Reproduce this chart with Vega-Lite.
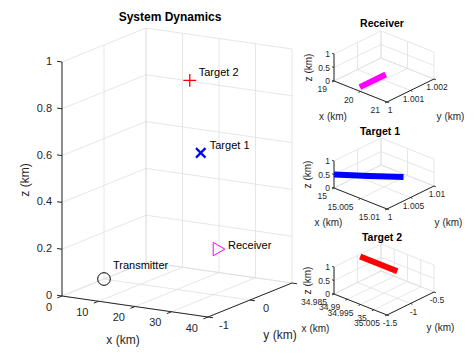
{
  "$schema": "https://vega.github.io/schema/vega-lite/v6.json",
  "width": 474,
  "height": 355,
  "autosize": {"type": "fit", "contains": "padding"},
  "padding": 0,
  "background": "white",
  "config": {"view": {"stroke": null}, "font": "Liberation Sans"},
  "params": [
    {"name": "geo", "value": {
      "main": {"ox": 62, "oy": 296, "ax": 146, "ay": 21, "bx": 84, "by": -34, "h": 234, "x0": 0, "x1": 40, "y0": -1, "y1": 1, "z0": 0, "z1": 1,
               "xl": [-10, 11.5], "yl": [16, 8.5], "zl": [-10, 0], "xt": [-12, 33.5], "yt": [30, 35], "zt": [-37, 1], "tt": [170, 17]},
      "rx": {"ox": 334, "oy": 81, "ax": 53, "ay": 21, "bx": 47, "by": -23, "h": 27, "x0": 19, "x1": 21, "y0": 1, "y1": 1.002, "z0": 0, "z1": 1,
             "xl": [-7, 8], "yl": [3, 8], "zl": [-4, 0], "xt": [-27.5, 25.5], "yt": [40, 26], "zt": [-25, 0], "tt": [382, 24]},
      "t1": {"ox": 334, "oy": 188, "ax": 53, "ay": 21, "bx": 47, "by": -23, "h": 27, "x0": 15, "x1": 15.01, "y0": 1, "y1": 1.01, "z0": 0, "z1": 1,
             "xl": [-7, 8], "yl": [3, 8], "zl": [-4, 0], "xt": [-32, 24.5], "yt": [38, 25], "zt": [-26, 0], "tt": [380, 132]},
      "t2": {"ox": 334, "oy": 294, "ax": 53, "ay": 21, "bx": 47, "by": -23, "h": 27, "x0": 34.985, "x1": 35.005, "y0": -1.5, "y1": -0.5, "z0": 0, "z1": 1,
             "xl": [-7, 8], "yl": [3, 8], "zl": [-4, 0], "xt": [-45, 24.5], "yt": [30, 24], "zt": [-26, 0], "tt": [382, 238]}
    }}
  ],
  "datasets": {
    "ticks": [
      {"panel": "main", "axis": "x", "val": 0, "label": "0"},
      {"panel": "main", "axis": "x", "val": 10, "label": "10"},
      {"panel": "main", "axis": "x", "val": 20, "label": "20"},
      {"panel": "main", "axis": "x", "val": 30, "label": "30"},
      {"panel": "main", "axis": "x", "val": 40, "label": "40"},
      {"panel": "main", "axis": "y", "val": -1, "label": "-1"},
      {"panel": "main", "axis": "y", "val": 0, "label": "0"},
      {"panel": "main", "axis": "y", "val": 1, "label": ""},
      {"panel": "main", "axis": "z", "val": 0, "label": "0"},
      {"panel": "main", "axis": "z", "val": 0.2, "label": "0.2"},
      {"panel": "main", "axis": "z", "val": 0.4, "label": "0.4"},
      {"panel": "main", "axis": "z", "val": 0.6, "label": "0.6"},
      {"panel": "main", "axis": "z", "val": 0.8, "label": "0.8"},
      {"panel": "main", "axis": "z", "val": 1, "label": "1"},
      {"panel": "rx", "axis": "x", "val": 19, "label": "19"},
      {"panel": "rx", "axis": "x", "val": 20, "label": "20"},
      {"panel": "rx", "axis": "x", "val": 21, "label": "21"},
      {"panel": "rx", "axis": "y", "val": 1, "label": "1"},
      {"panel": "rx", "axis": "y", "val": 1.001, "label": "1.001"},
      {"panel": "rx", "axis": "y", "val": 1.002, "label": "1.002"},
      {"panel": "rx", "axis": "z", "val": 0, "label": "0"},
      {"panel": "rx", "axis": "z", "val": 0.5, "label": "0.5"},
      {"panel": "rx", "axis": "z", "val": 1, "label": "1"},
      {"panel": "t1", "axis": "x", "val": 15, "label": "15"},
      {"panel": "t1", "axis": "x", "val": 15.005, "label": "15.005"},
      {"panel": "t1", "axis": "x", "val": 15.01, "label": "15.01"},
      {"panel": "t1", "axis": "y", "val": 1, "label": "1"},
      {"panel": "t1", "axis": "y", "val": 1.005, "label": "1.005"},
      {"panel": "t1", "axis": "y", "val": 1.01, "label": "1.01"},
      {"panel": "t1", "axis": "z", "val": 0, "label": "0"},
      {"panel": "t1", "axis": "z", "val": 0.5, "label": "0.5"},
      {"panel": "t1", "axis": "z", "val": 1, "label": "1"},
      {"panel": "t2", "axis": "x", "val": 34.985, "label": "34.985"},
      {"panel": "t2", "axis": "x", "val": 34.99, "label": "34.99"},
      {"panel": "t2", "axis": "x", "val": 34.995, "label": "34.995"},
      {"panel": "t2", "axis": "x", "val": 35, "label": "35"},
      {"panel": "t2", "axis": "x", "val": 35.005, "label": "35.005"},
      {"panel": "t2", "axis": "y", "val": -1.5, "label": "-1.5"},
      {"panel": "t2", "axis": "y", "val": -1, "label": "-1"},
      {"panel": "t2", "axis": "y", "val": -0.5, "label": "-0.5"},
      {"panel": "t2", "axis": "z", "val": 0, "label": "0"},
      {"panel": "t2", "axis": "z", "val": 0.5, "label": "0.5"},
      {"panel": "t2", "axis": "z", "val": 1, "label": "1"}
    ],
    "panels": [
      {"panel": "main", "title": "System Dynamics"},
      {"panel": "rx", "title": "Receiver"},
      {"panel": "t1", "title": "Target 1"},
      {"panel": "t2", "title": "Target 2"}
    ],
    "traj": [
      {"panel": "rx", "name": "Receiver", "i": 0, "x": 19.8, "y": 1.0002, "z": 0},
      {"panel": "rx", "name": "Receiver", "i": 1, "x": 19.8, "y": 1.0013, "z": 0},
      {"panel": "t1", "name": "Target 1", "i": 0, "x": 15.0, "y": 1.0, "z": 0.5},
      {"panel": "t1", "name": "Target 1", "i": 1, "x": 15.002, "y": 1.0015, "z": 0.5},
      {"panel": "t1", "name": "Target 1", "i": 2, "x": 15.004, "y": 1.003, "z": 0.5},
      {"panel": "t1", "name": "Target 1", "i": 3, "x": 15.006, "y": 1.0046, "z": 0.5},
      {"panel": "t1", "name": "Target 1", "i": 4, "x": 15.0078, "y": 1.006, "z": 0.5},
      {"panel": "t2", "name": "Target 2", "i": 0, "x": 34.986, "y": -1.0, "z": 1},
      {"panel": "t2", "name": "Target 2", "i": 1, "x": 35.0, "y": -1.0, "z": 1}
    ],
    "pts": [
      {"name": "Transmitter", "x": 0, "y": 0, "z": 0},
      {"name": "Receiver", "x": 20, "y": 1, "z": 0.1},
      {"name": "Target 1", "x": 15, "y": 1, "z": 0.5},
      {"name": "Target 2", "x": 35, "y": -1, "z": 1}
    ],
    "labels": [
      {"text": "Transmitter", "x": 0, "y": 0, "z": 0.055},
      {"text": "Receiver", "x": 20, "y": 1, "z": 0.114},
      {"text": "Target 1", "x": 15, "y": 1, "z": 0.53},
      {"text": "Target 2", "x": 35, "y": -1, "z": 1.03}
    ]
  },
  "layer": [
    {
      "data": {"name": "ticks"},
      "transform": [
        {"calculate": "geo[datum.panel]", "as": "g"},
        {"calculate": "datum.axis=='x' ? (datum.val-datum.g.x0)/(datum.g.x1-datum.g.x0) : datum.axis=='y' ? (datum.val-datum.g.y0)/(datum.g.y1-datum.g.y0) : (datum.val-datum.g.z0)/(datum.g.z1-datum.g.z0)", "as": "n"},
        {"calculate": "datum.axis=='x' ? datum.n : 0", "as": "u1"},
        {"calculate": "datum.axis=='y' ? datum.n : 0", "as": "v1"},
        {"calculate": "datum.axis=='z' ? datum.n : 0", "as": "w1"},
        {"calculate": "datum.axis=='x' ? datum.n : (datum.axis=='y' ? 1 : 0)", "as": "u2"},
        {"calculate": "datum.axis=='x' ? 1 : (datum.axis=='y' ? datum.n : 1)", "as": "v2"},
        {"calculate": "datum.axis=='z' ? datum.n : 0", "as": "w2"},
        {"calculate": "datum.g.ox + datum.g.ax*datum.u1 + datum.g.bx*datum.v1", "as": "X1"},
        {"calculate": "datum.g.oy + datum.g.ay*datum.u1 + datum.g.by*datum.v1 - datum.g.h*datum.w1", "as": "Y1"},
        {"calculate": "datum.g.ox + datum.g.ax*datum.u2 + datum.g.bx*datum.v2", "as": "X2"},
        {"calculate": "datum.g.oy + datum.g.ay*datum.u2 + datum.g.by*datum.v2 - datum.g.h*datum.w2", "as": "Y2"}
      ],
      "mark": {"type": "rule", "color": "#e0e0e0", "strokeWidth": 0.8},
      "encoding": {
        "x": {"field": "X1", "type": "quantitative", "scale": {"domain": [0, 474], "nice": false, "zero": false}, "axis": null},
        "y": {"field": "Y1", "type": "quantitative", "scale": {"domain": [0, 355], "nice": false, "zero": false, "reverse": true}, "axis": null},
        "x2": {"field": "X2"},
        "y2": {"field": "Y2"}
      }
    },
    {
      "data": {"name": "ticks"},
      "transform": [
        {"calculate": "geo[datum.panel]", "as": "g"},
        {"calculate": "datum.axis=='x' ? (datum.val-datum.g.x0)/(datum.g.x1-datum.g.x0) : datum.axis=='y' ? (datum.val-datum.g.y0)/(datum.g.y1-datum.g.y0) : (datum.val-datum.g.z0)/(datum.g.z1-datum.g.z0)", "as": "n"},
        {"calculate": "datum.axis=='x' ? datum.n : 0", "as": "u1"},
        {"calculate": "datum.axis=='y' ? datum.n : 1", "as": "v1"},
        {"calculate": "datum.axis=='z' ? datum.n : 0", "as": "w1"},
        {"calculate": "datum.axis=='x' ? datum.n : (datum.axis=='z' ? 1 : 0)", "as": "u2"},
        {"calculate": "datum.axis=='y' ? datum.n : 1", "as": "v2"},
        {"calculate": "datum.axis=='z' ? datum.n : 1", "as": "w2"},
        {"calculate": "datum.g.ox + datum.g.ax*datum.u1 + datum.g.bx*datum.v1", "as": "X1"},
        {"calculate": "datum.g.oy + datum.g.ay*datum.u1 + datum.g.by*datum.v1 - datum.g.h*datum.w1", "as": "Y1"},
        {"calculate": "datum.g.ox + datum.g.ax*datum.u2 + datum.g.bx*datum.v2", "as": "X2"},
        {"calculate": "datum.g.oy + datum.g.ay*datum.u2 + datum.g.by*datum.v2 - datum.g.h*datum.w2", "as": "Y2"}
      ],
      "mark": {"type": "rule", "color": "#e0e0e0", "strokeWidth": 0.8},
      "encoding": {
        "x": {"field": "X1", "type": "quantitative", "scale": {"domain": [0, 474], "nice": false, "zero": false}, "axis": null},
        "y": {"field": "Y1", "type": "quantitative", "scale": {"domain": [0, 355], "nice": false, "zero": false, "reverse": true}, "axis": null},
        "x2": {"field": "X2"},
        "y2": {"field": "Y2"}
      }
    },
    {
      "data": {"name": "ticks"},
      "transform": [
        {"aggregate": [{"op": "count", "as": "c"}], "groupby": ["panel", "axis"]},
        {"calculate": "geo[datum.panel]", "as": "g"},
        {"calculate": "datum.axis=='y' ? 1 : 0", "as": "u1"},
        {"calculate": "0", "as": "v1"},
        {"calculate": "0", "as": "w1"},
        {"calculate": "datum.axis=='z' ? 0 : 1", "as": "u2"},
        {"calculate": "datum.axis=='y' ? 1 : 0", "as": "v2"},
        {"calculate": "datum.axis=='z' ? 1 : 0", "as": "w2"},
        {"calculate": "datum.g.ox + datum.g.ax*datum.u1 + datum.g.bx*datum.v1", "as": "X1"},
        {"calculate": "datum.g.oy + datum.g.ay*datum.u1 + datum.g.by*datum.v1 - datum.g.h*datum.w1", "as": "Y1"},
        {"calculate": "datum.g.ox + datum.g.ax*datum.u2 + datum.g.bx*datum.v2", "as": "X2"},
        {"calculate": "datum.g.oy + datum.g.ay*datum.u2 + datum.g.by*datum.v2 - datum.g.h*datum.w2", "as": "Y2"}
      ],
      "mark": {"type": "rule", "color": "#262626", "strokeWidth": 1},
      "encoding": {
        "x": {"field": "X1", "type": "quantitative", "scale": {"domain": [0, 474], "nice": false, "zero": false}, "axis": null},
        "y": {"field": "Y1", "type": "quantitative", "scale": {"domain": [0, 355], "nice": false, "zero": false, "reverse": true}, "axis": null},
        "x2": {"field": "X2"},
        "y2": {"field": "Y2"}
      }
    },
    {
      "data": {"name": "ticks"},
      "transform": [
        {"calculate": "geo[datum.panel]", "as": "g"},
        {"calculate": "datum.axis=='x' ? (datum.val-datum.g.x0)/(datum.g.x1-datum.g.x0) : datum.axis=='y' ? (datum.val-datum.g.y0)/(datum.g.y1-datum.g.y0) : (datum.val-datum.g.z0)/(datum.g.z1-datum.g.z0)", "as": "n"},
        {"calculate": "datum.panel=='main' ? (datum.axis=='x' ? 0.055 : 0.034) : (datum.axis=='x' ? 0.04 : 0.035)", "as": "tl"},
        {"calculate": "datum.axis=='x' ? datum.n : (datum.axis=='y' ? 1 : 0)", "as": "u1"},
        {"calculate": "datum.axis=='y' ? datum.n : 0", "as": "v1"},
        {"calculate": "datum.axis=='z' ? datum.n : 0", "as": "w1"},
        {"calculate": "datum.axis=='x' ? datum.n : (datum.axis=='y' ? 1 + datum.tl : -datum.tl)", "as": "u2"},
        {"calculate": "datum.axis=='x' ? -datum.tl : (datum.axis=='y' ? datum.n : 0)", "as": "v2"},
        {"calculate": "datum.axis=='z' ? datum.n : 0", "as": "w2"},
        {"calculate": "datum.g.ox + datum.g.ax*datum.u1 + datum.g.bx*datum.v1", "as": "X1"},
        {"calculate": "datum.g.oy + datum.g.ay*datum.u1 + datum.g.by*datum.v1 - datum.g.h*datum.w1", "as": "Y1"},
        {"calculate": "datum.g.ox + datum.g.ax*datum.u2 + datum.g.bx*datum.v2", "as": "X2"},
        {"calculate": "datum.g.oy + datum.g.ay*datum.u2 + datum.g.by*datum.v2 - datum.g.h*datum.w2", "as": "Y2"}
      ],
      "mark": {"type": "rule", "color": "#262626", "strokeWidth": 1},
      "encoding": {
        "x": {"field": "X1", "type": "quantitative", "scale": {"domain": [0, 474], "nice": false, "zero": false}, "axis": null},
        "y": {"field": "Y1", "type": "quantitative", "scale": {"domain": [0, 355], "nice": false, "zero": false, "reverse": true}, "axis": null},
        "x2": {"field": "X2"},
        "y2": {"field": "Y2"}
      }
    },
    {
      "data": {"name": "ticks"},
      "transform": [
        {"filter": "datum.axis != 'y' && datum.label != ''"},
        {"calculate": "geo[datum.panel]", "as": "g"},
        {"calculate": "datum.axis=='x' ? (datum.val-datum.g.x0)/(datum.g.x1-datum.g.x0) : (datum.val-datum.g.z0)/(datum.g.z1-datum.g.z0)", "as": "n"},
        {"calculate": "datum.axis=='x' ? datum.n : 0", "as": "u1"},
        {"calculate": "datum.axis=='z' ? datum.n : 0", "as": "w1"},
        {"calculate": "datum.g.ox + datum.g.ax*datum.u1 + (datum.axis=='x' ? datum.g.xl[0] : datum.g.zl[0])", "as": "LX"},
        {"calculate": "datum.g.oy + datum.g.ay*datum.u1 - datum.g.h*datum.w1 + (datum.axis=='x' ? datum.g.xl[1] : datum.g.zl[1])", "as": "LY"},
        {"calculate": "datum.panel=='main' ? 11 : 8.5", "as": "fs"}
      ],
      "mark": {"type": "text", "align": "right", "baseline": "middle", "color": "#262626"},
      "encoding": {
        "x": {"field": "LX", "type": "quantitative", "scale": {"domain": [0, 474], "nice": false, "zero": false}, "axis": null},
        "y": {"field": "LY", "type": "quantitative", "scale": {"domain": [0, 355], "nice": false, "zero": false, "reverse": true}, "axis": null},
        "text": {"field": "label"},
        "size": {"field": "fs", "type": "quantitative", "scale": null}
      }
    },
    {
      "data": {"name": "ticks"},
      "transform": [
        {"filter": "datum.axis == 'y' && datum.label != ''"},
        {"calculate": "geo[datum.panel]", "as": "g"},
        {"calculate": "(datum.val-datum.g.y0)/(datum.g.y1-datum.g.y0)", "as": "n"},
        {"calculate": "datum.g.ox + datum.g.ax + datum.g.bx*datum.n + datum.g.yl[0]", "as": "LX"},
        {"calculate": "datum.g.oy + datum.g.ay + datum.g.by*datum.n + datum.g.yl[1]", "as": "LY"},
        {"calculate": "datum.panel=='main' ? 11 : 8.5", "as": "fs"}
      ],
      "mark": {"type": "text", "align": "center", "baseline": "middle", "color": "#262626"},
      "encoding": {
        "x": {"field": "LX", "type": "quantitative", "scale": {"domain": [0, 474], "nice": false, "zero": false}, "axis": null},
        "y": {"field": "LY", "type": "quantitative", "scale": {"domain": [0, 355], "nice": false, "zero": false, "reverse": true}, "axis": null},
        "text": {"field": "label"},
        "size": {"field": "fs", "type": "quantitative", "scale": null}
      }
    },
    {
      "data": {"name": "ticks"},
      "transform": [
        {"aggregate": [{"op": "count", "as": "c"}], "groupby": ["panel", "axis"]},
        {"calculate": "geo[datum.panel]", "as": "g"},
        {"calculate": "datum.axis=='x' ? 0.5 : (datum.axis=='y' ? 1 : 0)", "as": "u1"},
        {"calculate": "datum.axis=='y' ? 0.5 : 0", "as": "v1"},
        {"calculate": "datum.axis=='z' ? 0.5 : 0", "as": "w1"},
        {"calculate": "datum.axis=='x' ? datum.g.xt : (datum.axis=='y' ? datum.g.yt : datum.g.zt)", "as": "off"},
        {"calculate": "datum.g.ox + datum.g.ax*datum.u1 + datum.g.bx*datum.v1 + datum.off[0]", "as": "LX"},
        {"calculate": "datum.g.oy + datum.g.ay*datum.u1 + datum.g.by*datum.v1 - datum.g.h*datum.w1 + datum.off[1]", "as": "LY"},
        {"calculate": "datum.axis + ' (km)'", "as": "txt"},
        {"calculate": "datum.axis=='z' ? 270 : 0", "as": "ang"},
        {"calculate": "datum.panel=='main' ? 12 : 10", "as": "fs"}
      ],
      "mark": {"type": "text", "align": "center", "baseline": "middle", "color": "#262626"},
      "encoding": {
        "x": {"field": "LX", "type": "quantitative", "scale": {"domain": [0, 474], "nice": false, "zero": false}, "axis": null},
        "y": {"field": "LY", "type": "quantitative", "scale": {"domain": [0, 355], "nice": false, "zero": false, "reverse": true}, "axis": null},
        "text": {"field": "txt"},
        "angle": {"field": "ang", "type": "quantitative", "scale": null},
        "size": {"field": "fs", "type": "quantitative", "scale": null}
      }
    },
    {
      "data": {"name": "panels"},
      "transform": [
        {"calculate": "geo[datum.panel]", "as": "g"},
        {"calculate": "datum.g.tt[0]", "as": "LX"},
        {"calculate": "datum.g.tt[1]", "as": "LY"},
        {"calculate": "datum.panel=='main' ? 12 : 10.5", "as": "fs"}
      ],
      "mark": {"type": "text", "align": "center", "baseline": "middle", "fontWeight": "bold", "color": "#000000"},
      "encoding": {
        "x": {"field": "LX", "type": "quantitative", "scale": {"domain": [0, 474], "nice": false, "zero": false}, "axis": null},
        "y": {"field": "LY", "type": "quantitative", "scale": {"domain": [0, 355], "nice": false, "zero": false, "reverse": true}, "axis": null},
        "text": {"field": "title"},
        "size": {"field": "fs", "type": "quantitative", "scale": null}
      }
    },
    {
      "data": {"name": "traj"},
      "transform": [
        {"calculate": "geo[datum.panel]", "as": "g"},
        {"calculate": "(datum.x-datum.g.x0)/(datum.g.x1-datum.g.x0)", "as": "u"},
        {"calculate": "(datum.y-datum.g.y0)/(datum.g.y1-datum.g.y0)", "as": "v"},
        {"calculate": "(datum.z-datum.g.z0)/(datum.g.z1-datum.g.z0)", "as": "w"},
        {"calculate": "datum.g.ox + datum.g.ax*datum.u + datum.g.bx*datum.v", "as": "X"},
        {"calculate": "datum.g.oy + datum.g.ay*datum.u + datum.g.by*datum.v - datum.g.h*datum.w", "as": "Y"}
      ],
      "mark": {"type": "line", "strokeWidth": 6, "strokeCap": "butt"},
      "encoding": {
        "x": {"field": "X", "type": "quantitative", "scale": {"domain": [0, 474], "nice": false, "zero": false}, "axis": null},
        "y": {"field": "Y", "type": "quantitative", "scale": {"domain": [0, 355], "nice": false, "zero": false, "reverse": true}, "axis": null},
        "detail": {"field": "panel"},
        "order": {"field": "i", "type": "quantitative"},
        "color": {"field": "name", "type": "nominal", "scale": {"domain": ["Transmitter", "Receiver", "Target 1", "Target 2"], "range": ["#000000", "#ff00ff", "#0000ff", "#ff0000"]}, "legend": null}
      }
    },
    {
      "data": {"name": "pts"},
      "transform": [
        {"calculate": "geo.main", "as": "g"},
        {"calculate": "(datum.x-datum.g.x0)/(datum.g.x1-datum.g.x0)", "as": "u"},
        {"calculate": "(datum.y-datum.g.y0)/(datum.g.y1-datum.g.y0)", "as": "v"},
        {"calculate": "(datum.z-datum.g.z0)/(datum.g.z1-datum.g.z0)", "as": "w"},
        {"calculate": "datum.g.ox + datum.g.ax*datum.u + datum.g.bx*datum.v", "as": "X"},
        {"calculate": "datum.g.oy + datum.g.ay*datum.u + datum.g.by*datum.v - datum.g.h*datum.w", "as": "Y"},
        {"calculate": "{'Transmitter': 160, 'Receiver': 180, 'Target 1': 90, 'Target 2': 165}[datum.name]", "as": "sz"},
        {"calculate": "{'Transmitter': 1, 'Receiver': 1, 'Target 1': 2.2, 'Target 2': 1.3}[datum.name]", "as": "sw"}
      ],
      "mark": {"type": "point", "filled": false, "opacity": 1},
      "encoding": {
        "x": {"field": "X", "type": "quantitative", "scale": {"domain": [0, 474], "nice": false, "zero": false}, "axis": null},
        "y": {"field": "Y", "type": "quantitative", "scale": {"domain": [0, 355], "nice": false, "zero": false, "reverse": true}, "axis": null},
        "color": {"field": "name", "type": "nominal", "scale": {"domain": ["Transmitter", "Receiver", "Target 1", "Target 2"], "range": ["#000000", "#ff00ff", "#0000ff", "#ff0000"]}, "legend": null},
        "shape": {"field": "name", "type": "nominal", "scale": {"domain": ["Transmitter", "Receiver", "Target 1", "Target 2"], "range": ["circle", "triangle-right", "M-1,-1L1,1M-1,1L1,-1", "M-1,0L1,0M0,-1L0,1"]}, "legend": null},
        "size": {"field": "sz", "type": "quantitative", "scale": null},
        "strokeWidth": {"field": "sw", "type": "quantitative", "scale": null}
      }
    },
    {
      "data": {"name": "labels"},
      "transform": [
        {"calculate": "geo.main", "as": "g"},
        {"calculate": "(datum.x-datum.g.x0)/(datum.g.x1-datum.g.x0)", "as": "u"},
        {"calculate": "(datum.y-datum.g.y0)/(datum.g.y1-datum.g.y0)", "as": "v"},
        {"calculate": "(datum.z-datum.g.z0)/(datum.g.z1-datum.g.z0)", "as": "w"},
        {"calculate": "datum.g.ox + datum.g.ax*datum.u + datum.g.bx*datum.v", "as": "X"},
        {"calculate": "datum.g.oy + datum.g.ay*datum.u + datum.g.by*datum.v - datum.g.h*datum.w", "as": "Y"}
      ],
      "mark": {"type": "text", "align": "left", "baseline": "middle", "dx": 9, "fontSize": 11, "color": "#000000"},
      "encoding": {
        "x": {"field": "X", "type": "quantitative", "scale": {"domain": [0, 474], "nice": false, "zero": false}, "axis": null},
        "y": {"field": "Y", "type": "quantitative", "scale": {"domain": [0, 355], "nice": false, "zero": false, "reverse": true}, "axis": null},
        "text": {"field": "text"}
      }
    }
  ]
}
